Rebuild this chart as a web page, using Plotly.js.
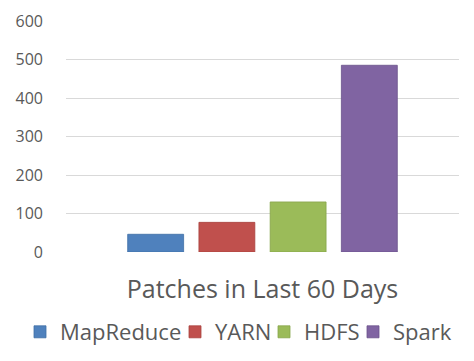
<!DOCTYPE html>
<html>
<head>
<meta charset="utf-8">
<script src="https://cdn.plot.ly/plotly-3.0.1.min.js"></script>
<style>html,body{margin:0;padding:0;background:#fff;}#chart{width:474px;height:361px;}</style>
</head>
<body>
<div id="chart"></div>
<script>
const category = ["Patches in Last 60 Days"];
const seriesNames = ["MapReduce", "YARN", "HDFS", "Spark"];
const seriesValues = [46, 77, 130, 485];
const seriesColors = ["#4F81BD", "#C0504D", "#9BBB59", "#8064A2"];
const seriesLines = ["#3f6fa6", "#a8413e", "#86a44a", "#6a528a"];
const yTicks = [0, 100, 200, 300, 400, 500, 600];
const legendIds = ["legend", "legend2", "legend3", "legend4"];
const legendLeft = [20, 175, 264, 353];

const FONT = "Open Sans, Lato, sans-serif";
const traces = seriesNames.map((name, i) => ({
  type: "bar",
  name: name,
  x: category,
  y: [seriesValues[i]],
  legend: legendIds[i],
  marker: { color: seriesColors[i], line: { color: seriesLines[i], width: 0.8 } },
  hoverinfo: "none"
}));

const layout = {
  width: 474, height: 361,
  margin: { l: 66, r: 15, t: 21, b: 109 },
  paper_bgcolor: "#ffffff", plot_bgcolor: "#ffffff",
  barmode: "group",
  bargap: 0.275,
  bargroupgap: 0.215,
  font: { family: FONT, color: "#595959" },
  xaxis: {
    type: "category",
    showgrid: false, zeroline: false, showline: false,
    ticks: "",
    tickfont: { size: 25, color: "#595959", family: FONT },
    ticklabelstandoff: 20
  },
  yaxis: {
    range: [0, 600],
    tickvals: yTicks,
    ticktext: yTicks.map(String),
    showgrid: true, gridcolor: "#d9d9d9", gridwidth: 1,
    zeroline: false, showline: false,
    ticks: "",
    tickfont: { size: 16, color: "#595959", family: FONT },
    ticklabelstandoff: 22
  },
  showlegend: true
};
legendIds.forEach((id, i) => {
  layout[id] = {
    orientation: "h",
    xref: "container", yref: "container",
    x: legendLeft[i] / 474, xanchor: "left",
    y: 1 - 332 / 361, yanchor: "middle",
    bgcolor: "rgba(0,0,0,0)",
    font: { size: 22, color: "#595959", family: FONT },
    itemwidth: 30
  };
});

Plotly.newPlot("chart", traces, layout, { staticPlot: true, displayModeBar: false });
</script>
</body>
</html>
